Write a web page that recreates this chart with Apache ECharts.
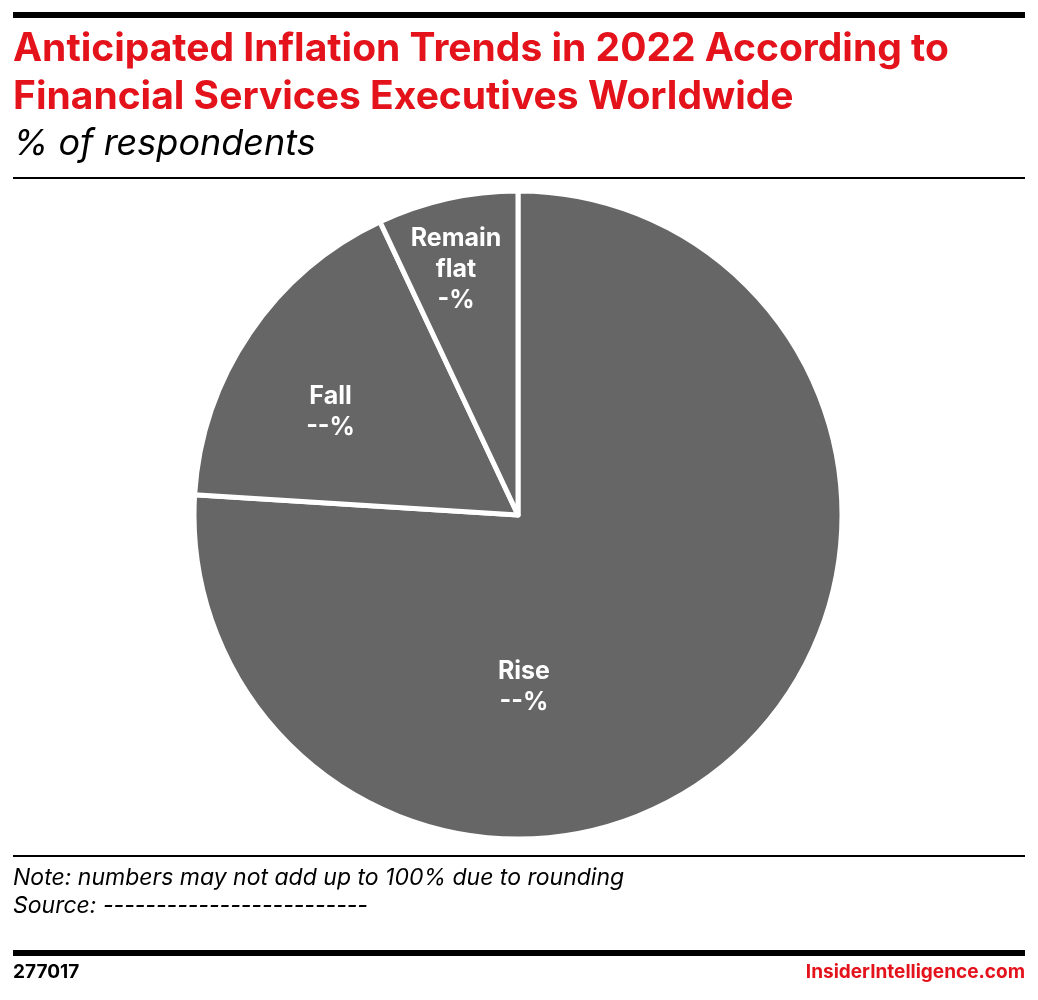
<!DOCTYPE html>
<html><head><meta charset="utf-8">
<script src="https://cdn.jsdelivr.net/npm/echarts@6/dist/echarts.min.js"></script>
<style>html,body{margin:0;padding:0;background:#fff}#chart{width:1038px;height:1000px}</style>
</head><body><div id="chart"></div>
<script>
var categories = ['Rise', 'Fall', 'Remain flat'];
var values = [76, 17, 7];
var shownValues = ['--%', '--%', '-%'];
var labelNames = ['Rise', 'Fall', 'Remain\nflat'];
var labelOffsets = [[-107, 52], [-51, -10], [-26, -84]];

var myChart = echarts.init(document.getElementById('chart'));
var font = 'Inter, "Open Sans", sans-serif';
var red = '#e3121b';

var option = {
    animation: false,
    graphic: [
        { type: 'rect', shape: { x: 13, y: 12, width: 1012, height: 6 }, style: { fill: '#000' } },
        { type: 'text', left: 13, top: 25, style: { text: 'Anticipated Inflation Trends in 2022 According to\nFinancial Services Executives Worldwide', fill: red, font: 'bold 39px ' + font, lineHeight: 48 } },
        { type: 'text', left: 13, top: 126, style: { text: '% of respondents', fill: '#000', font: 'italic 36px ' + font } },
        { type: 'rect', shape: { x: 13, y: 177, width: 1012, height: 2 }, style: { fill: '#000' } },
        { type: 'rect', shape: { x: 13, y: 855, width: 1012, height: 2 }, style: { fill: '#000' } },
        { type: 'text', left: 13, top: 864, style: { text: 'Note: numbers may not add up to 100% due to rounding\nSource: -------------------------', fill: '#000', font: 'italic 23px ' + font, lineHeight: 28 } },
        { type: 'rect', shape: { x: 13, y: 950, width: 1012, height: 6 }, style: { fill: '#000' } },
        { type: 'text', left: 13, top: 963, style: { text: '277017', fill: '#000', font: 'bold 19px ' + font } },
        { type: 'text', right: 13, top: 963, style: { text: 'InsiderIntelligence.com', fill: red, font: 'bold 19px ' + font } }
    ],
    series: [{
        type: 'pie',
        center: [518, 515],
        radius: [0, 324],
        startAngle: 90,
        clockwise: true,
        itemStyle: { color: '#666666', borderColor: '#fff', borderWidth: 5 },
        label: {
            position: 'inside',
            color: '#fff',
            fontFamily: font,
            fontWeight: 'bold',
            fontSize: 25,
            lineHeight: 31
        },
        labelLine: { show: false },
        emphasis: { disabled: true },
        data: categories.map(function (c, i) {
            return {
                name: c, value: values[i],
                label: { formatter: labelNames[i] + '\n' + shownValues[i], offset: labelOffsets[i] }
            };
        })
    }]
};
myChart.setOption(option);
</script></body></html>
